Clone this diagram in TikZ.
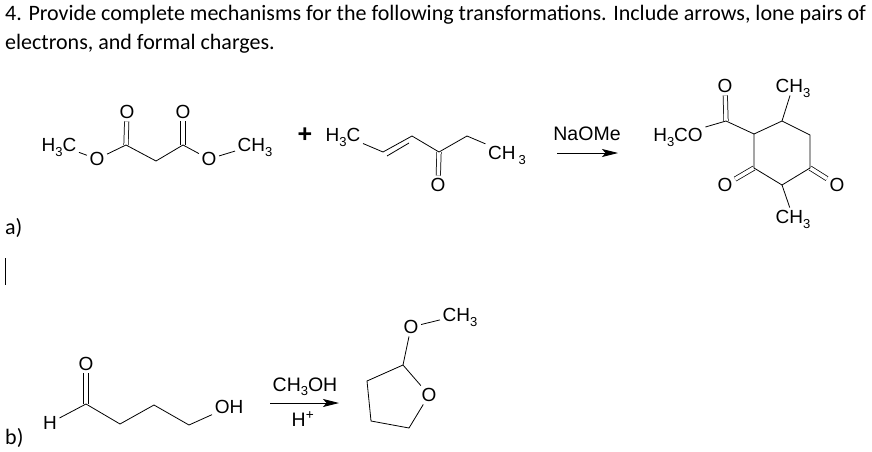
\documentclass[tikz,border=0pt]{standalone}
\usepackage{fontspec}
\setmainfont{Carlito}
\newfontfamily\chemfont{Liberation Sans}
\usetikzlibrary{arrows.meta}
\tikzset{
	atom/.style={inner sep=2.5pt, text height=13.5pt, text depth=0pt, font=\chemfont\fontsize{19}{19}\selectfont},
	reagent/.style={inner sep=0pt, font=\chemfont\fontsize{19.5}{19.5}\selectfont},
	body/.style={inner sep=0pt, anchor=base west, font=\fontsize{22}{26}\selectfont},
	bond/.style={line width=0.8pt},
	dbl/.style={line width=0.75pt, double, double distance=3.6pt},
	react/.style={line width=0.9pt, -{Stealth[length=16pt, width=8pt, inset=3.5pt]}}
}
\newcommand{\sub}[1]{\raisebox{-4.5pt}{\fontsize{13}{13}\selectfont #1}}
\begin{document}
\begin{tikzpicture}[x=1pt, y=-1pt]

	\useasboundingbox (0,0) rectangle (872,452);

	% question text
	\node[body] (line1) at (5,21) {4. Provide complete mechanisms for the following transformations. Include arrows, lone pairs of};
	\node[body] (line2) at (5,50) {electrons, and formal charges.};
	\node[body] (parta) at (5,234) {a)};
	\node[body] (partb) at (5,444) {b)};
	\coordinate (cursortop) at (5,258);
	\coordinate (cursorbot) at (5,285);
	\draw[line width=1pt] (cursortop) -- (cursorbot);

	% diester
	\node[atom] (me1) at (59,145) {H\sub{3}C};
	\node[atom] (oa) at (97,159) {O};
	\node[atom] (ob) at (209,159) {O};
	\node[atom] (me2) at (255,145) {CH\sub{3}};
	\node[atom] (oc) at (127,112) {O};
	\node[atom] (od) at (183,112) {O};
	\coordinate (ca) at (126,145);
	\coordinate (cb) at (156,161);
	\coordinate (cc) at (183,145);

	\draw[dbl] (ca) -- (oc);
	\draw[dbl] (cc) -- (od);
	\draw[bond] (me1) -- (oa);
	\draw[bond] (oa) -- (ca) -- (cb) -- (cc) -- (ob);
	\draw[bond] (ob) -- (me2);

	\node[font=\chemfont\bfseries\fontsize{25}{25}\selectfont, inner sep=0pt] (plus) at (305,135) {+};

	% enone
	\node[atom] (me3) at (343,135) {H\sub{3}C};
	\node[atom] (oe) at (438,185) {O};
	\node[atom] (me4) at (507,153) {CH\,\sub{3}};
	\coordinate (cd) at (383,152);
	\coordinate (ce) at (412,136);
	\coordinate (cf) at (439,152);
	\coordinate (cg) at (467,136);
	\coordinate (cda) at (387,156);
	\coordinate (cea) at (409,143);

	\draw[dbl] (cf) -- (oe);
	\draw[bond] (me3) -- (cd) -- (ce) -- (cf) -- (cg) -- (me4);
	\draw[bond] (cda) -- (cea);

	\node[reagent] (naome) at (587,134) {NaOMe};
	\coordinate (reacta) at (557,153);
	\coordinate (reactb) at (618,153);
	\draw[react] (reacta) -- (reactb);

	% product of a
	\node[atom] (h3co) at (678,135) {H\sub{3}CO};
	\node[atom] (of) at (725,86) {O};
	\node[atom] (og) at (725,185) {O};
	\node[atom] (oh) at (837,185) {O};
	\node[atom] (me5) at (793,86) {CH\sub{3}};
	\node[atom] (me6) at (793,217) {CH\sub{3}};
	\coordinate (ch) at (726,121);
	\coordinate (ri) at (754,134);
	\coordinate (rj) at (782,121);
	\coordinate (rk) at (810,135);
	\coordinate (rl) at (810,168);
	\coordinate (rm) at (782,185);
	\coordinate (rn) at (754,168);

	\draw[dbl] (ch) -- (of);
	\draw[dbl] (rn) -- (og);
	\draw[dbl] (rl) -- (oh);
	\draw[bond] (h3co) -- (ch) -- (ri);
	\draw[bond] (ri) -- (rj) -- (rk) -- (rl) -- (rm) -- (rn) -- cycle;
	\draw[bond] (rj) -- (me5);
	\draw[bond] (rm) -- (me6);

	% hydroxy aldehyde
	\node[atom] (oi) at (86,364) {O};
	\node[atom] (ald) at (50,423) {H};
	\node[atom] (oh2) at (229,407) {OH};
	\coordinate (co) at (86,404);
	\coordinate (cp) at (120,424);
	\coordinate (cq) at (154,405);
	\coordinate (cr) at (189,425);

	\draw[dbl] (co) -- (oi);
	\draw[bond] (ald) -- (co) -- (cp) -- (cq) -- (cr) -- (oh2);

	\node[reagent] (meoh) at (305,387) {CH\sub{3}OH};
	\node[reagent] (acid) at (303,419) {H\textsuperscript{+}};
	\coordinate (reactc) at (270,403);
	\coordinate (reactd) at (339,403);
	\draw[react] (reactc) -- (reactd);

	% acetal
	\node[atom] (oj) at (411,327) {O};
	\node[atom] (me7) at (460,315) {CH\sub{3}};
	\node[atom] (ok) at (429,395) {O};
	\coordinate (cs) at (403,365);
	\coordinate (ct) at (367,381);
	\coordinate (cu) at (371,421);
	\coordinate (cv) at (409,428);

	\draw[bond] (me7) -- (oj) -- (cs);
	\draw[bond] (cs) -- (ct) -- (cu) -- (cv) -- (ok) -- (cs);

\end{tikzpicture}
\end{document}
